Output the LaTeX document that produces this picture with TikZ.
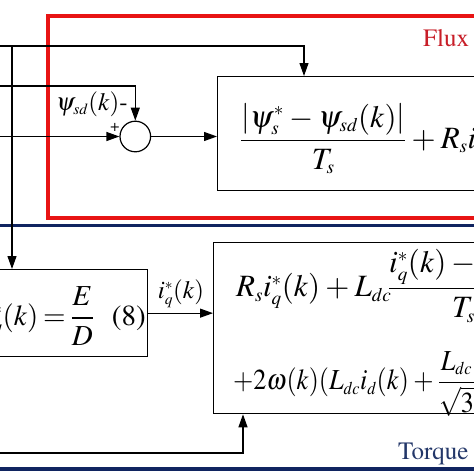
\documentclass[tikz,border=0pt]{standalone}
\usepackage{amsmath}
\usepackage{mathptmx}
\usepackage[T1]{fontenc}
\usetikzlibrary{arrows.meta}
\renewcommand\defaultscriptratio{.62}
\renewcommand\defaultscriptscriptratio{.5}
\definecolor{fluxred}{RGB}{232,20,20}
\definecolor{fluxtext}{RGB}{200,30,40}
\definecolor{navy}{RGB}{16,36,96}
\definecolor{torquetext}{RGB}{35,55,105}
\newcommand\tightmath{\medmuskip=3mu\thickmuskip=3mu\thinmuskip=2mu}
\begin{document}
\begin{tikzpicture}[x=1pt,y=-1pt,
  wire/.style={line width=1.2pt},
  sig/.style={wire,-{Triangle[length=13pt,width=9pt]}},
  blockbox/.style={draw,line width=1.3pt,inner sep=0pt},
  bigtxt/.style={font=\fontsize{31}{36}\selectfont\tightmath, inner sep=0pt},
  midtxt/.style={font=\fontsize{29}{34}\selectfont\tightmath, inner sep=0pt},
  lbltxt/.style={font=\fontsize{25}{30}\selectfont, inner sep=0pt},
  captxt/.style={font=\fontsize{25}{30}\selectfont, inner sep=0pt, anchor=base west}]
\useasboundingbox (0,0) rectangle (474,474);
\clip (0,0) rectangle (474,474);
\fill[white] (0,0) rectangle (474,474);

% frames
\draw[fluxred, line width=4pt] (48,15.5) rectangle (560,218);
\draw[navy, line width=3.5pt] (-5,225.5) -- (490,225.5);
\draw[navy, line width=3.5pt] (-5,469) -- (490,469);

% blocks
\node[blockbox, minimum width=320pt, minimum height=114pt, anchor=north west] (b1) at (217,76) {};
\node[blockbox, minimum width=200pt, minimum height=87pt, anchor=north east] (b2) at (148,269) {};
\node[blockbox, minimum width=320pt, minimum height=171pt, anchor=north west] (b3) at (213,242) {};
\node[draw, circle, line width=1.2pt, minimum size=30.6pt, inner sep=0pt] (sum) at (135.3,136.5) {};

% block contents
\node[bigtxt, anchor=west] (f1) at (240,139) {$\dfrac{\medmuskip=5mu\left|\psi_s^{*}-\psi_{sd}(k)\right|}{T_s}+R_s i_d^{*}(k)$};
\node[midtxt, anchor=east] (f2) at (146,316) {$i_q^{*}(k)=\dfrac{E}{D}$\hspace{18pt}(8)};
\node[bigtxt, anchor=west] (f3) at (236,286) {$R_s i_q^{*}(k)+L_{dc}\!\dfrac{i_q^{*}(k)-i_q(k)}{T_s}$};
\node[midtxt, anchor=west] (f4) at (233,384) {\scalebox{0.9}[1]{$+2\omega(k)(L_{dc}i_d(k)+\dfrac{L_{dc}}{\sqrt{3}}$}};

% labels
\node[lbltxt, anchor=west] (lpsi) at (56,104) {$\psi_{sd}(k)$-};
\node[font=\fontsize{16}{18}\selectfont, inner sep=0pt] (lplus) at (115,127) {+};
\node[lbltxt, anchor=south] (liq) at (181,308) {$i_q^{*}(k)$};
\node[captxt, text=fluxtext] (tflux) at (423,46) {Flux};
\node[captxt, text=torquetext] (ttorque) at (398,459) {Torque};

% connectors
\coordinate (l1) at (0,46);
\coordinate (j1) at (12,46);
\coordinate (l2) at (0,86);
\coordinate (l3) at (0,136.5);
\coordinate (l4) at (0,453);
\draw[sig] (l1) -| ([xshift=87pt]b1.north west);
\draw[sig] (j1) -- (j1 |- b2.north);
\draw[sig] (l2) -| (sum.north);
\draw[sig] (l3) -- (sum.west);
\draw[sig] (sum.east) -- (sum.east -| b1.west);
\draw[sig] (b2.east) -- (b2.east -| b3.west);
\draw[sig] (l4) -| ([xshift=30pt]b3.south west);
\end{tikzpicture}
\end{document}
